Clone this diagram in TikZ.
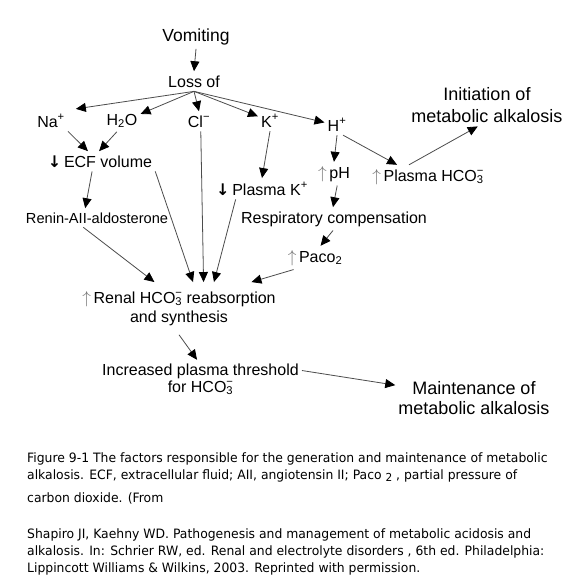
\documentclass[tikz,border=0pt]{standalone}
\usepackage{fontspec}
\setmainfont{Liberation Sans}
\newfontfamily\capfont[FakeStretch=0.96]{DejaVu Sans}
\newfontfamily\arrowfont{DejaVu Sans}
\usetikzlibrary{arrows.meta}
\newcommand\hco{HCO\rlap{\textsuperscript{−}}\textsubscript{3}}
\newcommand\incr{{\color{black!55}$\uparrow$}\,}
\newcommand\decr{{\arrowfont\bfseries ↓}\,}

\begin{document}
\begin{tikzpicture}[x=1pt,y=-1pt,
    lbl/.style={inner xsep=3pt,inner ysep=4pt,anchor=base,font=\fontsize{16}{19}\selectfont},
    big/.style={inner xsep=3pt,inner ysep=4pt,align=center,font=\fontsize{18}{22}\selectfont},
    captionline/.style={inner sep=0pt,anchor=base west,font=\capfont\fontsize{12.9}{15}\selectfont},
    arr/.style={draw=black!70,line width=0.8pt,-{Triangle[length=10pt,width=9pt,color=black]}}]
        \fill[white] (0,0) rectangle (578,581);
        \useasboundingbox (0,0) rectangle (578,581);

        \node[lbl,font=\fontsize{17.5}{20}\selectfont] (vomiting) at (196,41) {Vomiting};
        \node[lbl] (loss) at (194,87) {Loss of};
        \node[lbl] (na) at (51,127) {Na\textsuperscript{+}};
        \node[lbl] (water) at (122,125) {H\textsubscript{2}O};
        \node[lbl] (cl) at (199,127) {Cl\textsuperscript{−}};
        \node[lbl] (k) at (270,127) {K\textsuperscript{+}};
        \node[lbl] (h) at (337,131) {H\textsuperscript{+}};
        \node[lbl] (ecf) at (100,167) {\decr ECF volume};
        \node[lbl,font=\fontsize{14.6}{18}\selectfont] (renin) at (97,223) {Renin-AII-aldosterone};
        \node[lbl] (plasmak) at (262,195) {\decr Plasma K\textsuperscript{+}};
        \node[lbl] (ph) at (334,178) {\incr pH};
        \node[lbl] (plasmahco) at (428,181) {\incr Plasma \hco};
        \node[big] (init) at (487,104.6) {Initiation of\\metabolic alkalosis};
        \node[lbl] (resp) at (334,223) {Respiratory compensation};
        \node[lbl] (paco) at (315,262) {\incr Paco\textsubscript{2}};
        \node[lbl,anchor=center,align=center,inner ysep=9pt] (renal) at (179,308.4) {\incr Renal \hco\ reabsorption\\and synthesis};
        \node[lbl,anchor=center,align=center,font=\fontsize{16}{16.5}\selectfont] (thresh) at (200.5,379.4) {Increased plasma threshold\\for \hco};
        \node[big,font=\fontsize{18}{20}\selectfont] (maint) at (474,397.6) {Maintenance of\\metabolic alkalosis};

        \draw[arr] (vomiting.south) -- (loss.north);
        \draw[arr,shorten >=8pt] (loss.south) -- (na.north east);
        \draw[arr] (loss.south) -- (water.20);
        \draw[arr] (loss.south) -- (cl.north);
        \draw[arr] (loss.south) -- (k.160);
        \draw[arr] (loss.south) -- (h.170);
        \draw[arr] (na.south east) -- (ecf.140);
        \draw[arr] (water.245) -- (ecf.95);
        \draw[arr] (ecf.232) -- (renin.141);
        \draw[arr] (ecf.south east) -- (renal.62);
        \draw[arr] (cl.-80) -- (renal.47);
        \draw[arr] (k.south) -- (plasmak.north);
        \draw[arr] (plasmak.202) -- (renal.37);
        \draw[arr] (renin.215) -- (renal.133);
        \draw[arr] (h.-60) -- (plasmahco.159);
        \draw[arr] (h.south) -- (ph.north);
        \draw[arr] (plasmahco.148) -- (init.247);
        \draw[arr] (ph.-75) -- (resp.95);
        \draw[arr] (resp.265) -- (paco.65);
        \draw[arr] (paco.209) -- (renal.20);
        \draw[arr] (renal.south) -- (thresh.100);
        \draw[arr] (thresh.5) -- (maint.171);

        \node[captionline] (cap1) at (27,462) {Figure 9-1 The factors responsible for the generation and maintenance of metabolic};
        \node[captionline] (cap2) at (27,479) {alkalosis. ECF, extracellular fluid; AII, angiotensin II; Paco \raisebox{-2.5pt}{\fontsize{11}{13}\selectfont 2} , partial pressure of};
        \node[captionline] (cap3) at (27,502) {carbon dioxide. (From};
        \node[captionline] (cap4) at (27,538) {Shapiro JI, Kaehny WD. Pathogenesis and management of metabolic acidosis and};
        \node[captionline] (cap5) at (27,555) {alkalosis. In: Schrier RW, ed. Renal and electrolyte disorders , 6th ed. Philadelphia:};
        \node[captionline] (cap6) at (27,572) {Lippincott Williams \& Wilkins, 2003. Reprinted with permission.};
\end{tikzpicture}
\end{document}
